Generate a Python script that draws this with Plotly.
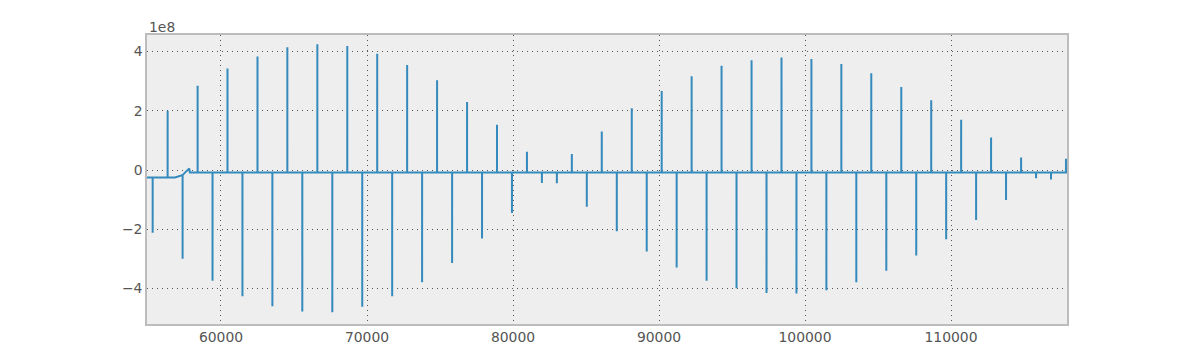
import numpy as np
import plotly.graph_objects as go

# Baseline breakpoints (x, value in units of 1e8)
base_x = [54932, 56850, 57300, 57550, 57830, 57870, 117945]
base_y = [-0.25, -0.25, -0.18, -0.08, 0.05, -0.08, -0.08]

# Spike positions and peak values (units of 1e8)
spike_x = [55320, 56345, 57370, 58400, 59420, 60445, 61470, 62500, 63520, 64545,
           65570, 66600, 67625, 68650, 69675, 70700, 71725, 72750, 73775, 74800,
           75830, 76855, 77880, 78905, 79930, 80955, 81980, 83005, 84030, 85055,
           86080, 87110, 88135, 89160, 90185, 91210, 92235, 93260, 94285, 95310,
           96340, 97365, 98390, 99415, 100440, 101465, 102490, 103515, 104540, 105570,
           106595, 107620, 108645, 109670, 110695, 111720, 112745, 113770, 114800, 115825,
           116850, 117875]
spike_y = [-2.12, 2.00, -3.00, 2.85, -3.74, 3.43, -4.26, 3.83, -4.60, 4.15,
           -4.78, 4.25, -4.80, 4.19, -4.62, 3.93, -4.26, 3.55, -3.79, 3.03,
           -3.14, 2.30, -2.31, 1.53, -1.45, 0.62, -0.44, -0.45, 0.54, -1.24,
           1.30, -2.07, 2.09, -2.75, 2.67, -3.29, 3.17, -3.74, 3.52, -3.99,
           3.71, -4.15, 3.80, -4.17, 3.75, -4.06, 3.58, -3.79, 3.27, -3.40,
           2.80, -2.89, 2.36, -2.34, 1.70, -1.69, 1.10, -1.01, 0.42, -0.28,
           -0.32, 0.38]
# Baseline level at each spike's foot
spike_base = [-0.25, -0.25, -0.17] + [-0.08] * (len(spike_x) - 3)

SCALE = 1e8
x_ticks = [60000, 70000, 80000, 90000, 100000, 110000]
y_ticks = [-4, -2, 0, 2, 4]
y_tick_labels = ["\u22124", "\u22122", "0", "2", "4"]

# Assemble one continuous line: baseline points plus a narrow triple per spike
pts = [(bx, by) for bx, by in zip(base_x, base_y)]
for sx, sy, sb in zip(spike_x, spike_y, spike_base):
    pts += [(sx - 1, sb), (sx, sy), (sx + 1, sb)]
pts.sort(key=lambda p: p[0])
xs = [p[0] for p in pts]
ys = [p[1] * SCALE for p in pts]

fig = go.Figure()
fig.add_trace(go.Scatter(x=xs, y=ys, mode="lines",
                         line=dict(color="#348ABD", width=2),
                         hoverinfo="skip", showlegend=False))

font = dict(family="DejaVu Sans", size=13.9, color="#555555")
fig.update_layout(
    width=1186, height=361,
    margin=dict(l=147, r=119, t=35, b=37),
    paper_bgcolor="white", plot_bgcolor="#eeeeee",
    font=font,
    xaxis=dict(range=[54932, 117945], tickvals=x_ticks,
               ticktext=[str(v) for v in x_ticks],
               showgrid=True, gridcolor="#555555", griddash="1px,4px", gridwidth=1,
               zeroline=False, showline=True, mirror=True,
               linecolor="#bcbcbc", linewidth=1.5, ticks="", tickfont=font),
    yaxis=dict(range=[-5.2e8, 4.56e8], tickvals=[v * SCALE for v in y_ticks],
               ticktext=y_tick_labels,
               showgrid=True, gridcolor="#555555", griddash="1px,4px", gridwidth=1,
               zeroline=False, showline=True, mirror=True,
               linecolor="#bcbcbc", linewidth=1.5, ticks="", tickfont=font),
    annotations=[dict(text="1e8", xref="paper", yref="paper", x=0, y=1,
                      xanchor="left", yanchor="bottom", yshift=-2, showarrow=False,
                      font=font)],
)

fig.write_html("out.html")
